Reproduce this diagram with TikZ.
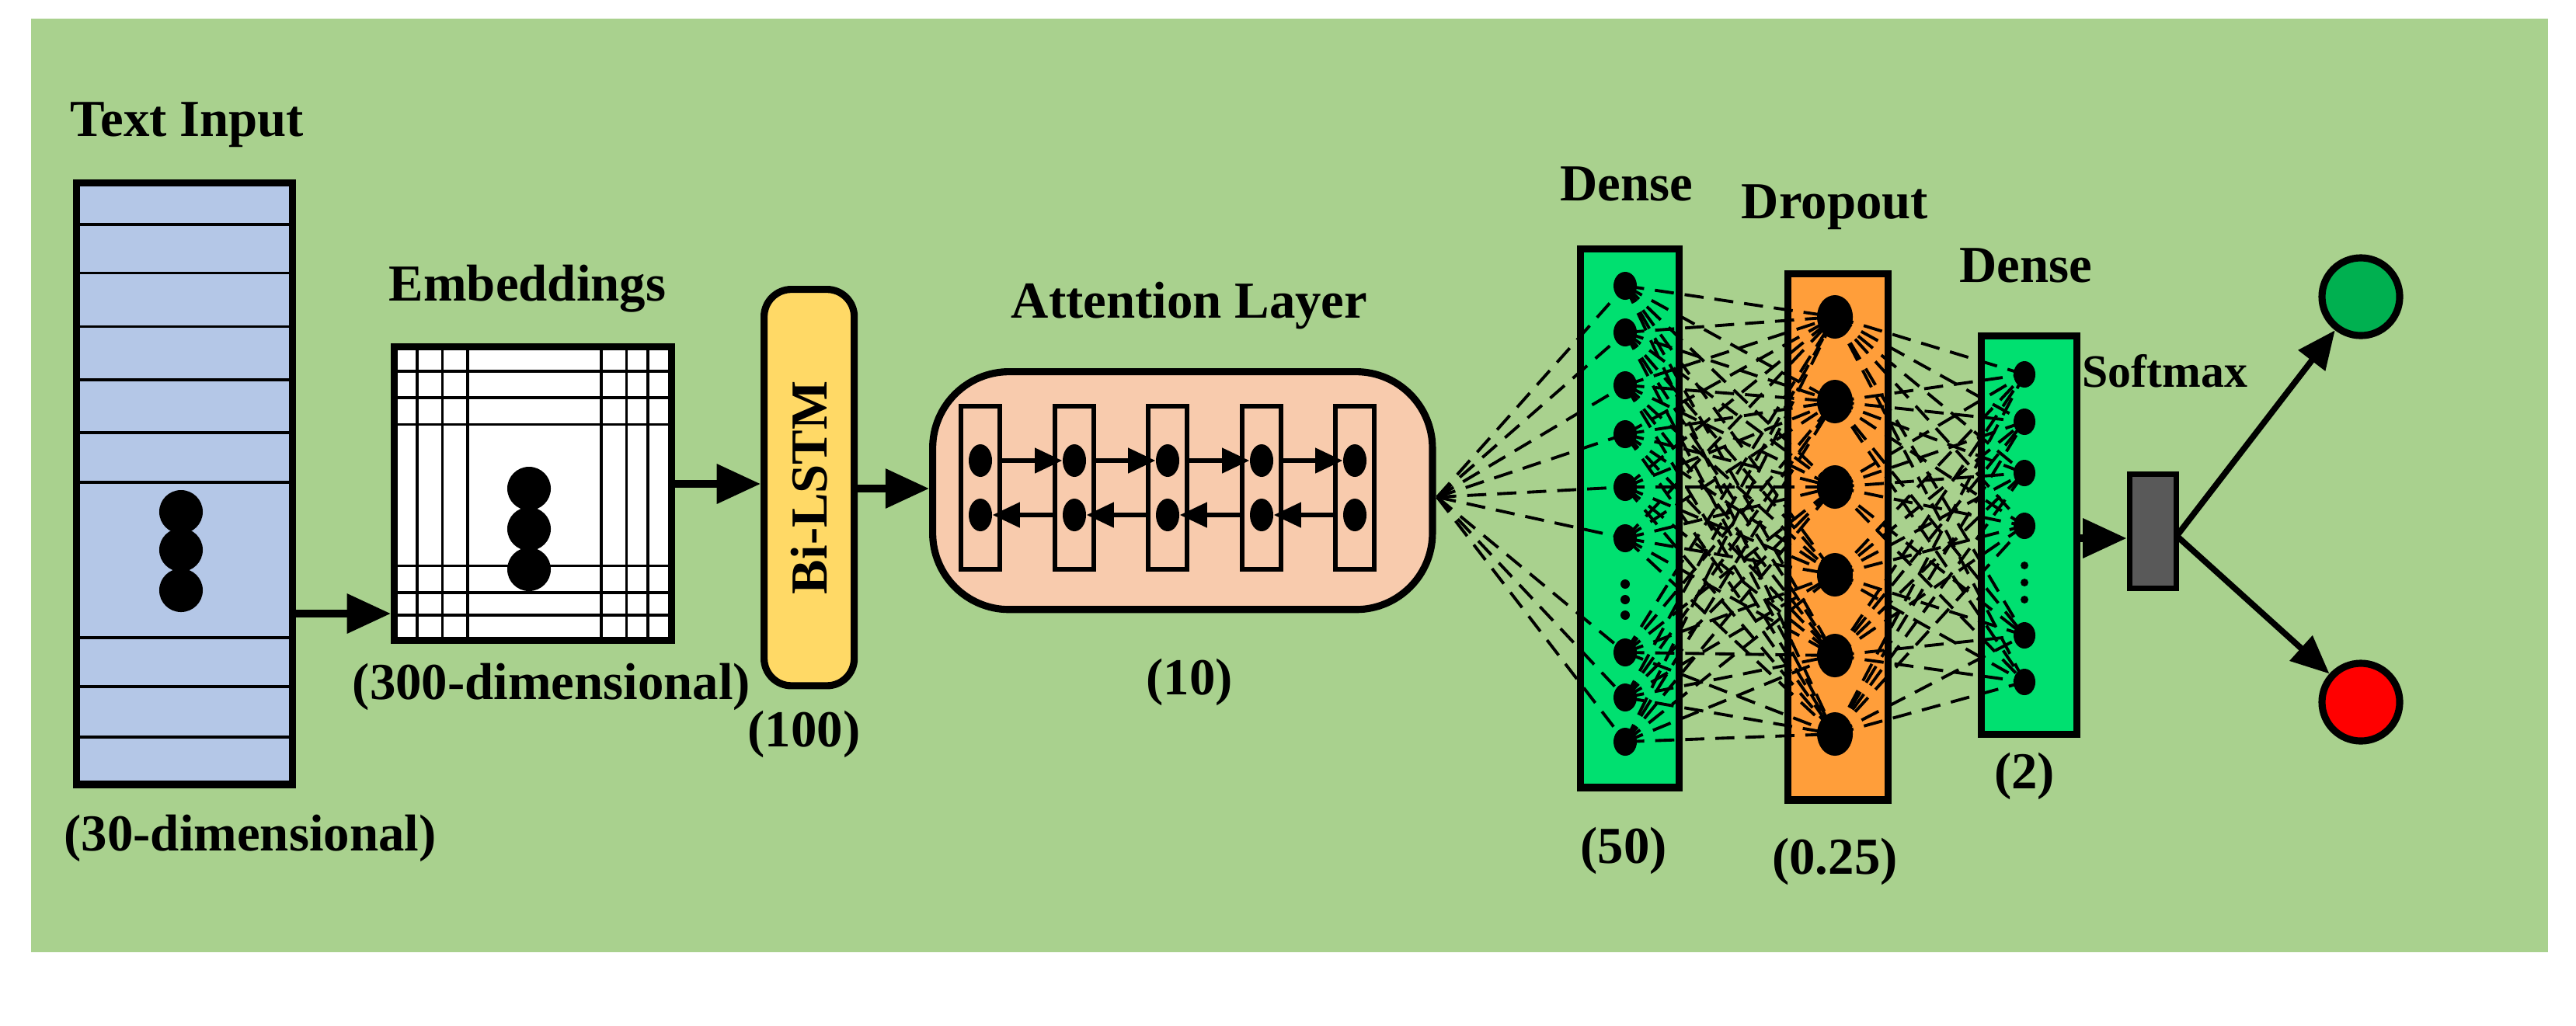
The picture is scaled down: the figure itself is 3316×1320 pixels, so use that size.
\documentclass[tikz,border=0pt]{standalone}
\usepackage{fontspec}
\setmainfont{Liberation Serif}
\usetikzlibrary{shapes.geometric,arrows.meta,calc}
\definecolor{bg}{HTML}{A9D18E}
\definecolor{ti}{HTML}{B4C7E7}
\definecolor{bl}{HTML}{FFD966}
\definecolor{at}{HTML}{F8CBAD}
\definecolor{dn}{HTML}{00E070}
\definecolor{dp}{HTML}{FF9E3A}
\definecolor{gc}{HTML}{00B050}
\tikzset{
 lbl/.style={font=\fontsize{19}{22}\selectfont\bfseries, inner sep=0pt},
 box/.style={draw, line width=2.6pt, inner sep=0pt, anchor=north west},
 arr/.style={line width=2.6pt, -{Triangle[length=16pt,width=14pt]}},
 sarr/.style={line width=1.6pt, -{Triangle[length=10pt,width=9pt]}},
 dsh/.style={dashed, dash pattern=on 7pt off 4pt, line width=1.1pt},
}
\begin{document}
\begin{tikzpicture}[x=0.01cm,y=-0.01cm]
\useasboundingbox (0,0) rectangle (3316,1320);
\fill[bg] (40,24) rectangle (3280,1226);
% Text input
\node[box, fill=ti, minimum width=2.78cm, minimum height=7.74cm] (ti) at (94,231) {};
\foreach \f in {.074,.154,.242,.329,.416,.498,.753,.833,.916}
  \draw[line width=1pt] ($(ti.north west)!\f!(ti.south west)$) -- ($(ti.north east)!\f!(ti.south east)$);
\node[lbl] (tit) at (241,161) {Text Input};
\node[lbl] (til) at (322,1079) {(30-dimensional)};
\foreach \y [count=\i] in {659,708,760} \node[circle, fill=black, inner sep=0pt, minimum size=0.56cm] (tid\i) at (233,\y) {};
% Embeddings
\node[box, fill=white, minimum width=3.57cm, minimum height=3.78cm] (em) at (503,442) {};
\foreach \f in {.093,.181,.27,.739,.829,.903}{
  \draw[line width=1pt] ($(em.north west)!\f!(em.north east)$) -- ($(em.south west)!\f!(em.south east)$);
  \draw[line width=1pt] ($(em.north west)!\f!(em.south west)$) -- ($(em.north east)!\f!(em.south east)$);}
\fill[white] ($(em.north west)!.3!(em.south east)$) rectangle ($(em.north west)!.71!(em.south east)$);
\node[lbl] (emt) at (679,372) {Embeddings};
\node[lbl] (eml) at (710,884) {(300-dimensional)};
\foreach \y [count=\i] in {629,681,733} \node[circle, fill=black, inner sep=0pt, minimum size=0.56cm] (emd\i) at (681,\y) {};
% BiLSTM
\node[box, fill=bl, rounded corners=10pt, minimum width=1.16cm, minimum height=5.1cm] (bl) at (979,368) {};
\node[lbl, rotate=90] (blt) at (bl.center) {Bi-LSTM};
\node[lbl] (bll) at (1035,945) {(100)};
% Attention
\node[box, fill=at, rounded corners=28pt, minimum width=6.43cm, minimum height=3.06cm] (at) at (1196,474) {};
\node[lbl] (att) at (1531,394) {Attention Layer};
\node[lbl] (atl) at (1531,878) {(10)};
\foreach \x [count=\i] in {1262,1383,1503,1624,1744}{
  \node[draw, line width=1.6pt, minimum width=0.5cm, minimum height=2.1cm, inner sep=0pt] (c\i) at (\x,628) {};
  \node[ellipse, fill=black, inner sep=0pt, minimum width=0.3cm, minimum height=0.42cm] (u\i) at (\x,593) {};
  \node[ellipse, fill=black, inner sep=0pt, minimum width=0.3cm, minimum height=0.42cm] (l\i) at (\x,663) {};}
\foreach \i/\j in {1/2,2/3,3/4,4/5}{
  \draw[sarr] (c\i.east |- u\i) -- (u\j.west);
  \draw[sarr] (c\j.west |- l\j) -- (l\i.east);}
% arrows main
\draw[arr] (ti.east |- 0,790) -- (em.west |- 0,790);
\draw[arr] (em.east |- 0,623) -- (bl.west |- 0,623);
\draw[arr] (bl.east |- 0,629) -- (at.west |- 0,629);
% Dense 1
\node[box, fill=dn, minimum width=1.27cm, minimum height=6.93cm] (d1) at (2030,316) {};
\node[lbl] (d1t) at (2094,237) {Dense};
\node[lbl] (d1l) at (2090,1095) {(50)};
\foreach \y [count=\i] in {368,428,496,559,627,693,840,898,955} \node[ellipse, fill=black, inner sep=0pt, minimum width=0.3cm, minimum height=0.36cm] (a\i) at (2092,\y) {};
\foreach \y in {752,772,792} \fill (2092,\y) circle (6);
% Dropout
\node[box, fill=dp, minimum width=1.29cm, minimum height=6.77cm] (dp) at (2297,348) {};
\node[lbl] (dpt) at (2362,267) {Dropout};
\node[lbl] (dpl) at (2362,1109) {(0.25)};
\foreach \y [count=\i] in {408,517,627,740,844,945} \node[ellipse, fill=black, inner sep=0pt, minimum width=0.46cm, minimum height=0.56cm] (b\i) at (2362,\y) {};
% Dense 2
\node[box, fill=dn, minimum width=1.23cm, minimum height=5.13cm] (d2) at (2546,428) {};
\node[lbl] (d2t) at (2608,342) {Dense};
\node[lbl] (d2l) at (2606,999) {(2)};
\foreach \y [count=\i] in {482,543,609,677,818,878} \node[ellipse, fill=black, inner sep=0pt, minimum width=0.28cm, minimum height=0.34cm] (e\i) at (2606,\y) {};
\foreach \y in {728,750,772} \fill (2606,\y) circle (5);
% fan
\coordinate (fan) at (1850,640);
\foreach \i in {1,...,9} \draw[dsh] (fan) -- (a\i.center);
\foreach \i in {1,...,9} \foreach \j in {1,...,6} \draw[dsh] (a\i.center) -- (b\j.center);
\foreach \i in {1,...,6} \foreach \j in {1,...,6} \draw[dsh] (b\i.center) -- (e\j.center);
% softmax
\node[lbl, font=\fontsize{17}{20}\selectfont\bfseries, anchor=west] (smt) at (2680,478) {Softmax};
\node[cylinder, shape border rotate=90, draw, line width=2pt, cylinder uses custom fill, cylinder body fill=black!65, cylinder end fill=black!30, aspect=1.2, minimum width=0.6cm, minimum height=1.47cm, inner sep=0pt] (cy) at (2771,686) {};
\draw[arr] (d2.east |- 0,693) -- (cy.west |- 0,693);
\node[circle, draw, line width=2.6pt, fill=gc, minimum size=1cm] (g) at (3039,382) {};
\node[circle, draw, line width=2.6pt, fill=red, minimum size=1cm] (r) at (3039,904) {};
\coordinate (cyo) at (2802,690);
\draw[line width=2.2pt, -{Triangle[length=14pt,width=12pt]}] (cyo) -- (g);
\draw[line width=2.2pt, -{Triangle[length=14pt,width=12pt]}] (cyo) -- (r);
\end{tikzpicture}
\end{document}
